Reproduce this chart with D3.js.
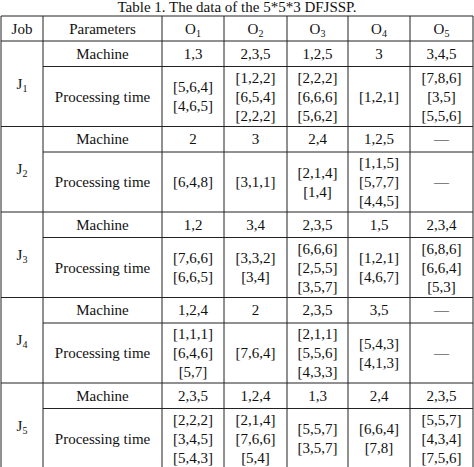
<!DOCTYPE html>
<html lang="en">
  <head>
    <meta charset="UTF-8" />
    <script src="https://cdn.jsdelivr.net/npm/d3@7"></script>
    <style>
      body { margin: 0; background: #fff; }
      text { font-family: "Liberation Serif", "Times New Roman", serif; font-size: 15px; fill: #111; }
    </style>
  </head>
  <body>
    <svg id="container" width="474" height="467"></svg>
    <script>
      // table contents
      let title = "Table 1. The data of the 5*5*3 DFJSSP.";
      let headers = ["Job", "Parameters", "O|1", "O|2", "O|3", "O|4", "O|5"];
      let jobs = ["J|1", "J|2", "J|3", "J|4", "J|5"];
      let machines = [
        ["1,3", "2,3,5", "1,2,5", "3", "3,4,5"],
        ["2", "3", "2,4", "1,2,5", "—"],
        ["1,2", "3,4", "2,3,5", "1,5", "2,3,4"],
        ["1,2,4", "2", "2,3,5", "3,5", "—"],
        ["2,3,5", "1,2,4", "1,3", "2,4", "2,3,5"],
      ];
      let times = [
        [["[5,6,4]", "[4,6,5]"], ["[1,2,2]", "[6,5,4]", "[2,2,2]"], ["[2,2,2]", "[6,6,6]", "[5,6,2]"], ["[1,2,1]"], ["[7,8,6]", "[3,5]", "[5,5,6]"]],
        [["[6,4,8]"], ["[3,1,1]"], ["[2,1,4]", "[1,4]"], ["[1,1,5]", "[5,7,7]", "[4,4,5]"], ["—"]],
        [["[7,6,6]", "[6,6,5]"], ["[3,3,2]", "[3,4]"], ["[6,6,6]", "[2,5,5]", "[3,5,7]"], ["[1,2,1]", "[4,6,7]"], ["[6,8,6]", "[6,6,4]", "[5,3]"]],
        [["[1,1,1]", "[6,4,6]", "[5,7]"], ["[7,6,4]"], ["[2,1,1]", "[5,5,6]", "[4,3,3]"], ["[5,4,3]", "[4,1,3]"], ["—"]],
        [["[2,2,2]", "[3,4,5]", "[5,4,3]"], ["[2,1,4]", "[7,6,6]", "[5,4]"], ["[5,5,7]", "[3,5,7]"], ["[6,6,4]", "[7,8]"], ["[5,5,7]", "[4,3,4]", "[7,5,6]"]],
      ];

      let svg = d3.select("#container");
      let colEdges = [1, 43, 162, 224, 287, 348, 410, 473];
      let tableTop = 16, headH = 25, machH = 25.5, procH = 60;
      let blockH = machH + procH;
      let line = 19;

      function label(sel, s) {
        let [base, sub] = s.split("|");
        sel.append("tspan").text(base);
        if (sub) sel.append("tspan").attr("font-size", 10).attr("dy", 3).text(sub);
      }

      svg.append("text").attr("x", 237).attr("y", 12).attr("text-anchor", "middle").text(title);

      let cx = (i) => (colEdges[i] + colEdges[i + 1]) / 2;

      // header
      headers.forEach((h, i) => {
        svg.append("text").attr("x", cx(i)).attr("y", tableTop + headH / 2 + 5)
          .attr("text-anchor", "middle").call(label, h);
      });

      jobs.forEach((j, r) => {
        let y0 = tableTop + headH + r * blockH;
        svg.append("text").attr("x", cx(0)).attr("y", y0 + blockH / 2 + 5)
          .attr("text-anchor", "middle").call(label, j);
        svg.append("text").attr("x", cx(1)).attr("y", y0 + machH / 2 + 5)
          .attr("text-anchor", "middle").text("Machine");
        svg.append("text").attr("x", cx(1)).attr("y", y0 + machH + procH / 2 + 5)
          .attr("text-anchor", "middle").text("Processing time");
        machines[r].forEach((m, c) => {
          svg.append("text").attr("x", cx(c + 2)).attr("y", y0 + machH / 2 + 5)
            .attr("text-anchor", "middle").text(m);
        });
        times[r].forEach((lines, c) => {
          let cy = y0 + machH + procH / 2;
          lines.forEach((t, k) => {
            svg.append("text").attr("x", cx(c + 2))
              .attr("y", cy + (k - (lines.length - 1) / 2) * line + 5)
              .attr("text-anchor", "middle").text(t);
          });
        });
      });

      // grid lines
      let g = svg.append("g").attr("stroke", "#222").attr("stroke-width", 1);
      let bottom = tableTop + headH + jobs.length * blockH;
      colEdges.forEach((x) => g.append("line").attr("x1", x).attr("x2", x).attr("y1", tableTop).attr("y2", bottom));
      g.append("line").attr("x1", colEdges[0]).attr("x2", 473).attr("y1", tableTop).attr("y2", tableTop);
      jobs.forEach((j, r) => {
        let y0 = tableTop + headH + r * blockH;
        g.append("line").attr("x1", colEdges[0]).attr("x2", 473).attr("y1", y0).attr("y2", y0);
        g.append("line").attr("x1", colEdges[1]).attr("x2", 473).attr("y1", y0 + machH).attr("y2", y0 + machH);
      });
      g.append("line").attr("x1", colEdges[0]).attr("x2", 473).attr("y1", bottom - 0.5).attr("y2", bottom - 0.5);
    </script>
  </body>
</html>
